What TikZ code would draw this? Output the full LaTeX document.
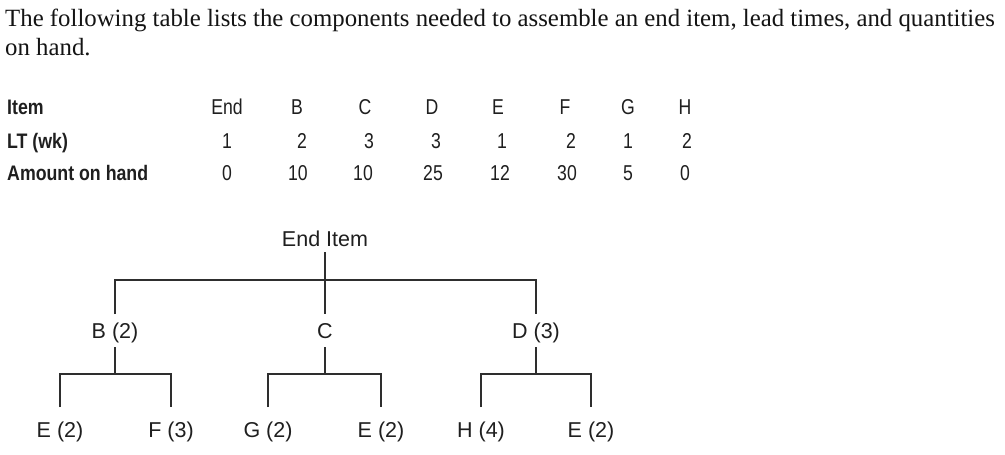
\documentclass[tikz,border=0pt]{standalone}
\usepackage{fontspec}
\setmainfont{Liberation Serif}
\setsansfont{Liberation Sans}
\usepackage{graphicx}
\newcommand{\cnd}[1]{\scalebox{0.82}[1]{#1}}
\newcommand{\cndb}[1]{\scalebox{0.845}[1]{#1}}
\begin{document}
\begin{tikzpicture}[x=1pt,y=-1pt,
  titleline/.style={anchor=base west,inner sep=0pt,font=\fontsize{24.8}{28}\selectfont,text=black!92},
  rowlab/.style={anchor=base west,inner sep=0pt,font=\sffamily\bfseries\fontsize{21}{24}\selectfont,text=black!88},
  cell/.style={anchor=base,inner sep=0pt,font=\sffamily\fontsize{21.5}{24}\selectfont,text=black!88},
  lab/.style={anchor=base,inner sep=0pt,text height=15pt,text depth=0pt,font=\sffamily\fontsize{21.5}{24}\selectfont,text=black!88},
  toplab/.style={lab,outer ysep=6pt},
  midlab/.style={lab,outer ysep=9pt},
  leaflab/.style={lab,outer ysep=15pt},
  link/.style={line width=1.6pt,draw=black!82}
]
\fill[white] (0,0) rectangle (1005,455);
\useasboundingbox (0,0) rectangle (1005,455);

% title
\node[titleline] (t1) at (5,27) {The following table lists the components needed to assemble an end item, lead times, and quantities};
\node[titleline] (t2) at (5,55) {on hand.};

% table
\node[rowlab] (ritem) at (7,114) {\cndb{Item}};
\node[rowlab] (rlt) at (7,148) {\cndb{LT (wk)}};
\node[rowlab] (ramt) at (7,180) {\cndb{Amount on hand}};

\node[cell] (hEnd) at (227,114) {\cnd{End}};
\node[cell] (hB) at (297,114) {\cnd{B}};
\node[cell] (hC) at (365,114) {\cnd{C}};
\node[cell] (hD) at (432,114) {\cnd{D}};
\node[cell] (hE) at (498,114) {\cnd{E}};
\node[cell] (hF) at (565,114) {\cnd{F}};
\node[cell] (hG) at (628,114) {\cnd{G}};
\node[cell] (hH) at (685,114) {\cnd{H}};

\node[cell] (lEnd) at (227,148) {\cnd{1}};
\node[cell] (lB) at (302,148) {\cnd{2}};
\node[cell] (lC) at (369,148) {\cnd{3}};
\node[cell] (lD) at (436,148) {\cnd{3}};
\node[cell] (lE) at (502,148) {\cnd{1}};
\node[cell] (lF) at (571,148) {\cnd{2}};
\node[cell] (lG) at (628,148) {\cnd{1}};
\node[cell] (lH) at (687,148) {\cnd{2}};

\node[cell] (aEnd) at (227,180) {\cnd{0}};
\node[cell] (aB) at (298,180) {\cnd{10}};
\node[cell] (aC) at (363,180) {\cnd{10}};
\node[cell] (aD) at (433,180) {\cnd{25}};
\node[cell] (aE) at (500,180) {\cnd{12}};
\node[cell] (aF) at (567,180) {\cnd{30}};
\node[cell] (aG) at (628,180) {\cnd{5}};
\node[cell] (aH) at (685,180) {\cnd{0}};

% tree
\node[toplab] (root) at (325,246) {End Item};
\node[midlab] (b) at (115,338) {B (2)};
\node[midlab] (c) at (325,338) {C};
\node[midlab] (d) at (536,338) {D (3)};
\node[leaflab] (e1) at (60,437) {E (2)};
\node[leaflab] (f) at (171,437) {F (3)};
\node[leaflab] (g) at (268,437) {G (2)};
\node[leaflab] (e2) at (381,437) {E (2)};
\node[leaflab] (h) at (481,437) {H (4)};
\node[leaflab] (e3) at (591,437) {E (2)};

\coordinate (h0) at (325,280);
\coordinate (hb) at (115,374);
\coordinate (hc) at (325,374);
\coordinate (hd) at (536,374);

\draw[link] (root.south) -- (h0);
\draw[link] (b.north) |- (h0) -| (d.north);
\draw[link] (h0) -- (c.north);

\draw[link] (b.south) -- (hb);
\draw[link] (e1.north) |- (hb) -| (f.north);
\draw[link] (c.south) -- (hc);
\draw[link] (g.north) |- (hc) -| (e2.north);
\draw[link] (d.south) -- (hd);
\draw[link] (h.north) |- (hd) -| (e3.north);
\end{tikzpicture}
\end{document}
